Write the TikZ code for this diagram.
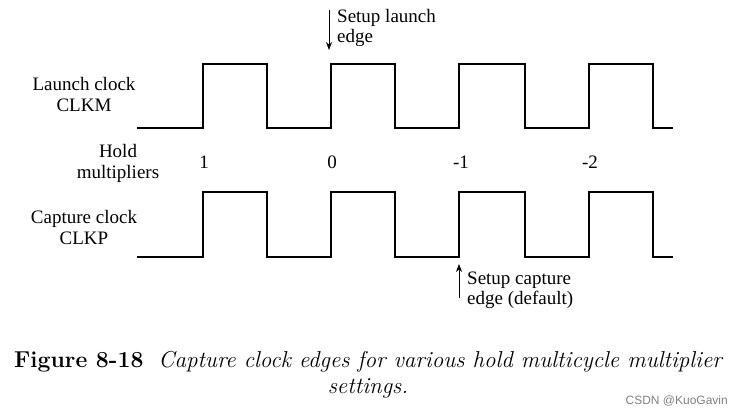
\documentclass[tikz,border=0pt]{standalone}
\usepackage{fontspec}
\usetikzlibrary{arrows.meta}
\newfontfamily\tms{Liberation Serif}
\newfontfamily\snf{Liberation Sans}
\begin{document}
\begin{tikzpicture}[x=1pt,y=-1pt,
  wave/.style={line width=1.4pt},
  lbl/.style={font=\tms\fontsize{19}{21}\selectfont,inner sep=0pt,align=center},
  ann/.style={font=\tms\fontsize{19}{20}\selectfont,inner sep=0pt,anchor=west,align=left},
  arr/.style={-{Stealth[length=8pt,width=6pt]},line width=0.8pt}]
\useasboundingbox (0,0) rectangle (741,415);
\fill[white] (0,0) rectangle (741,415);
\draw[wave] (137,128) -- (203,128) -- (203,64) -- (267,64) -- (267,128) -- (331,128) -- (331,64) -- (395,64) -- (395,128) -- (459,128) -- (459,64) -- (525,64) -- (525,128) -- (589,128) -- (589,64) -- (653,64) -- (653,128) -- (673,128);
\draw[wave] (137,257) -- (203,257) -- (203,192) -- (267,192) -- (267,257) -- (331,257) -- (331,192) -- (395,192) -- (395,257) -- (459,257) -- (459,192) -- (525,192) -- (525,257) -- (589,257) -- (589,192) -- (653,192) -- (653,257) -- (673,257);
\node[lbl] (lc) at (84,94) {Launch clock\\CLKM};
\node[lbl] (hm) at (118,163) {Hold\\multipliers};
\node[lbl] (cc) at (84,227) {Capture clock\\CLKP};
\node[lbl] (m1) at (204,162) {1};
\node[lbl] (m0) at (332,162) {0};
\node[lbl] (mm1) at (461,162) {-1};
\node[lbl] (mm2) at (590,162) {-2};
\coordinate (a1) at (329,10); \coordinate (a1e) at (329,50);
\draw[arr] (a1) -- (a1e);
\node[ann] (sl) at (337,28) {Setup launch\\edge};
\coordinate (a2) at (459,298); \coordinate (a2e) at (459,264);
\draw[arr] (a2) -- (a2e);
\node[ann] (sc) at (467,290) {Setup capture\\edge (default)};
\node[inner sep=0pt,anchor=west,font=\fontsize{23}{26}\selectfont] (cap) at (14,362) {\textbf{Figure 8-18}\hspace{0.65em}\textit{Capture clock edges for various hold multicycle multiplier}};
\node[inner sep=0pt,font=\fontsize{23}{26}\selectfont] (cap2) at (368,388) {\textit{settings.}};
\node[inner sep=0pt,anchor=east,font=\snf\fontsize{12}{14}\selectfont,text=gray] (wm) at (728,401) {CSDN @KuoGavin};
\end{tikzpicture}
\end{document}
